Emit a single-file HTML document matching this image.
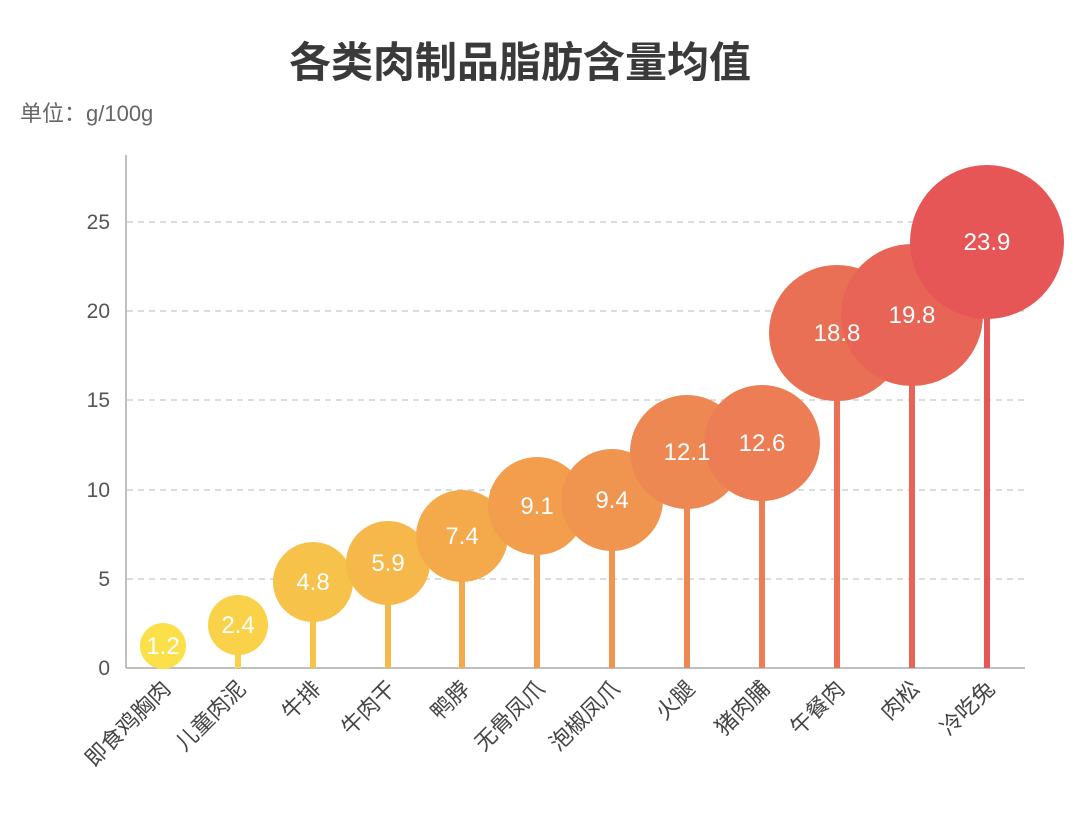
<!DOCTYPE html>
<html><head><meta charset="utf-8"><style>
html,body{margin:0;padding:0;background:#fff;}
svg{display:block;font-family:"Liberation Sans","Noto Sans CJK SC",sans-serif;}
</style></head><body>
<svg width="1080" height="826" viewBox="0 0 1080 826" xmlns="http://www.w3.org/2000/svg">
<rect width="1080" height="826" fill="#fff"/>
<text x="520" y="77" text-anchor="middle" font-size="42" font-weight="bold" fill="#3a3a3a">各类肉制品脂肪含量均值</text>
<text x="20" y="121" font-size="22" fill="#666">单位：g/100g</text>
<g stroke="#c8c8c8" stroke-width="1.3" stroke-dasharray="6,5">
<line x1="127" y1="222" x2="1025" y2="222"/>
<line x1="127" y1="311" x2="1025" y2="311"/>
<line x1="127" y1="400" x2="1025" y2="400"/>
<line x1="127" y1="490" x2="1025" y2="490"/>
<line x1="127" y1="579" x2="1025" y2="579"/>
</g>
<line x1="126" y1="155" x2="126" y2="668" stroke="#aaa" stroke-width="1.5"/>
<line x1="126" y1="668" x2="1025" y2="668" stroke="#aaa" stroke-width="1.5"/>
<g font-size="21" fill="#555" text-anchor="end">
<text x="110" y="675">0</text><text x="110" y="586">5</text><text x="110" y="497">10</text>
<text x="110" y="407">15</text><text x="110" y="318">20</text><text x="110" y="229">25</text>
</g>
<g stroke-width="6">
<line x1="163" y1="646" x2="163" y2="668" stroke="#fbe04a"/>
<line x1="238" y1="625" x2="238" y2="668" stroke="#f9d24a"/>
<line x1="313" y1="582" x2="313" y2="668" stroke="#f7c24a"/>
<line x1="388" y1="563" x2="388" y2="668" stroke="#f6b84a"/>
<line x1="462" y1="536" x2="462" y2="668" stroke="#f4a94a"/>
<line x1="537" y1="506" x2="537" y2="668" stroke="#f29e4c"/>
<line x1="612" y1="500" x2="612" y2="668" stroke="#f0954f"/>
<line x1="687" y1="452" x2="687" y2="668" stroke="#ee8852"/>
<line x1="762" y1="443" x2="762" y2="668" stroke="#ec7d54"/>
<line x1="837" y1="333" x2="837" y2="668" stroke="#ea7055"/>
<line x1="912" y1="315" x2="912" y2="668" stroke="#e86456"/>
<line x1="987" y1="242" x2="987" y2="668" stroke="#e65656"/>
</g>
<circle cx="163" cy="646" r="23" fill="#fbe04a"/>
<circle cx="238" cy="625" r="30" fill="#f9d24a"/>
<circle cx="313" cy="582" r="40" fill="#f7c24a"/>
<circle cx="388" cy="563" r="42" fill="#f6b84a"/>
<circle cx="462" cy="536" r="46" fill="#f4a94a"/>
<circle cx="537" cy="506" r="49" fill="#f29e4c"/>
<circle cx="612" cy="500" r="51" fill="#f0954f"/>
<circle cx="687" cy="452" r="57" fill="#ee8852"/>
<circle cx="762" cy="443" r="58" fill="#ec7d54"/>
<circle cx="837" cy="333" r="68" fill="#ea7055"/>
<circle cx="912" cy="315" r="71" fill="#e86456"/>
<circle cx="987" cy="242" r="77" fill="#e65656"/>
<g font-size="24" fill="#fff" text-anchor="middle">
<text x="163" y="654">1.2</text><text x="238" y="633">2.4</text><text x="313" y="590">4.8</text>
<text x="388" y="571">5.9</text><text x="462" y="544">7.4</text><text x="537" y="514">9.1</text>
<text x="612" y="508">9.4</text><text x="687" y="460">12.1</text><text x="762" y="451">12.6</text>
<text x="837" y="341">18.8</text><text x="912" y="323">19.8</text><text x="987" y="250">23.9</text>
</g>
<g font-size="22" fill="#444" text-anchor="end">
<text transform="translate(172,690) rotate(-45)">即食鸡胸肉</text>
<text transform="translate(247,690) rotate(-45)">儿童肉泥</text>
<text transform="translate(322,690) rotate(-45)">牛排</text>
<text transform="translate(397,690) rotate(-45)">牛肉干</text>
<text transform="translate(471,690) rotate(-45)">鸭脖</text>
<text transform="translate(546,690) rotate(-45)">无骨凤爪</text>
<text transform="translate(621,690) rotate(-45)">泡椒凤爪</text>
<text transform="translate(696,690) rotate(-45)">火腿</text>
<text transform="translate(771,690) rotate(-45)">猪肉脯</text>
<text transform="translate(846,690) rotate(-45)">午餐肉</text>
<text transform="translate(921,690) rotate(-45)">肉松</text>
<text transform="translate(996,690) rotate(-45)">冷吃兔</text>
</g>
</svg>
</body></html>
